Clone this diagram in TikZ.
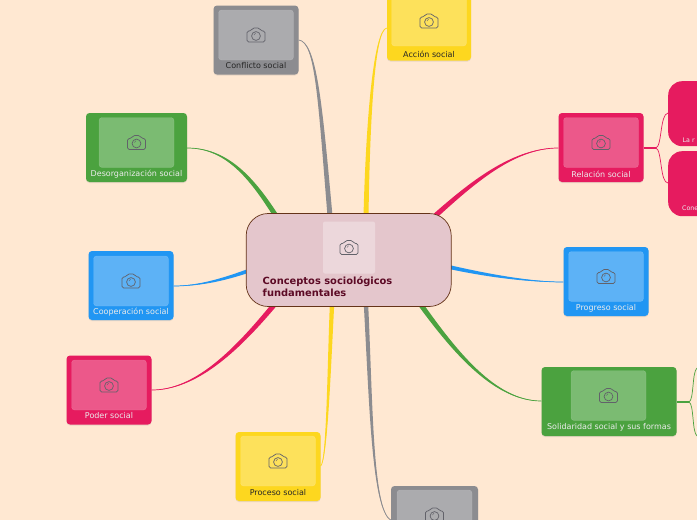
\documentclass[tikz,border=0pt]{standalone}
\usepackage{fontspec}
\setmainfont{DejaVu Sans}
\usepackage{xcolor}
\usetikzlibrary{backgrounds,shadows,calc}
\definecolor{mapbg}{HTML}{FFE8D2}
\definecolor{maproot}{HTML}{E4C6CC}
\definecolor{mapedge}{HTML}{653318}
\definecolor{maptext}{HTML}{5C0A25}
\definecolor{mappink}{HTML}{E61B5F}
\definecolor{mapgreen}{HTML}{4BA23F}
\definecolor{mapblue}{HTML}{2196F3}
\definecolor{mapyellow}{HTML}{FDD71F}
\definecolor{mapgray}{HTML}{8C8C90}
\definecolor{mapicon}{HTML}{62626A}
% tapered branch: colour, from, to, control 1, control 2, half width at the thick end
\newcommand{\mapbranch}[6]{
  \fill[#1] ($(#2)+#6$) .. controls ($(#4)+0.8*#6$) and ($(#5)+0.25*#6$) .. (#3)
    .. controls ($(#5)-0.25*#6$) and ($(#4)-0.8*#6$) .. ($(#2)-#6$) -- cycle;
  \draw[#1, line width=0.7pt] (#2) .. controls (#4) and (#5) .. (#3);
}
\tikzset{
  rootbox/.style={draw=mapedge, fill=maproot, rounded corners=22pt, line width=0.7pt, minimum width=205pt, minimum height=93pt, inner sep=0pt},
  cardbox/.style={fill=#1, rounded corners=3.5pt, minimum height=69pt, inner sep=0pt, drop shadow={shadow xshift=0pt, shadow yshift=-1pt, opacity=0.18}},
  cardpic/.style={fill=white, fill opacity=0.27, draw=white, draw opacity=0.18, rounded corners=3pt, minimum width=75pt, minimum height=50pt, inner sep=0pt},
  rootpic/.style={fill=white, fill opacity=0.3, rounded corners=2pt, minimum width=52pt, minimum height=52pt, inner sep=0pt},
  lighttext/.style={text=white!92!black, font=\fontsize{8}{10}\selectfont, inner sep=0pt},
  darktext/.style={text=black!85, font=\fontsize{8}{10}\selectfont, inner sep=0pt},
  roottext/.style={text=maptext, font=\fontsize{9.9}{12}\selectfont\bfseries, align=left, inner sep=0pt},
  subbox/.style={fill=mappink, rounded corners=14pt, minimum width=60pt, minimum height=65pt, inner sep=0pt},
  subtext/.style={text=white!92!black, font=\fontsize{6.3}{8}\selectfont, inner sep=0pt, anchor=west},
  camera/.pic={
    \draw[mapicon, line width=0.7pt, rounded corners=1.6pt]
      (-9,7) -- (-9,-4) -- (-5,-4) -- (-3.5,-7) -- (3.5,-7) -- (5,-4) -- (9,-4) -- (9,7) -- cycle;
    \draw[mapicon, line width=0.7pt] (0,1) circle (4.4);
    \draw[mapicon, line width=0.4pt] (-2,0) -- (-0.5,-1.8);
  }
}
\begin{document}
\begin{tikzpicture}[x=1pt, y=-1pt]
\clip (0,0) rectangle (697,520);

\node[rootbox] (root) at (348.7,260) {};
\node[rootpic] (rootimg) at (349,247.5) {};
\pic at (rootimg) {camera};
\node[roottext, anchor=north west] (roottxt) at (262.5,276.5) {Conceptos sociológicos\\fundamentales};

% left side
\node[cardbox=mapgray, minimum width=85pt] (conflicto) at (256,40) {};
\node[cardpic] (conflictoimg) at (256,35) {};
\pic at (conflictoimg) {camera};
\node[darktext] (conflictotxt) at (256,66) {Conflicto social};

\node[cardbox=mapgreen, minimum width=101pt] (desorg) at (136.5,147.5) {};
\node[cardpic] (desorgimg) at (136.5,142.5) {};
\pic at (desorgimg) {camera};
\node[lighttext] (desorgtxt) at (136.5,174) {Desorganización social};

\node[cardbox=mapblue, minimum width=85pt] (cooper) at (131,285.5) {};
\node[cardpic] (cooperimg) at (131,281) {};
\pic at (cooperimg) {camera};
\node[lighttext] (coopertxt) at (131,312) {Cooperación social};

\node[cardbox=mappink, minimum width=85pt] (poder) at (109,390) {};
\node[cardpic] (poderimg) at (109,385) {};
\pic at (poderimg) {camera};
\node[lighttext] (podertxt) at (109,416) {Poder social};

\node[cardbox=mapyellow, minimum width=85pt] (proceso) at (278,466.5) {};
\node[cardpic] (procesoimg) at (278,461) {};
\pic at (procesoimg) {camera};
\node[darktext] (procesotxt) at (278,493) {Proceso social};

% right side
\node[cardbox=mapyellow, minimum width=84pt] (accion) at (429,26) {};
\node[cardpic] (accionimg) at (429,21) {};
\pic at (accionimg) {camera};
\node[darktext] (acciontxt) at (429,54) {Acción social};

\node[cardbox=mappink, minimum width=85pt] (relacion) at (601,147.5) {};
\node[cardpic] (relacionimg) at (601,142.5) {};
\pic at (relacionimg) {camera};
\node[lighttext] (relaciontxt) at (601,174) {Relación social};

\node[cardbox=mapblue, minimum width=85pt] (progreso) at (606,281.5) {};
\node[cardpic] (progresoimg) at (606,276.5) {};
\pic at (progresoimg) {camera};
\node[lighttext] (progresotxt) at (606,308) {Progreso social};

\node[cardbox=mapgreen, minimum width=135pt] (solidar) at (609,401.5) {};
\node[cardpic] (solidarimg) at (608.5,395.5) {};
\pic at (solidarimg) {camera};
\node[lighttext] (solidartxt) at (609,427) {Solidaridad social y sus formas};

\node[cardbox=mapgray, minimum width=87pt] (abajo) at (434.5,520.5) {};
\node[cardpic] (abajoimg) at (434.5,515) {};
\pic at (abajoimg) {camera};

% cut off at the right edge
\node[subbox, anchor=north west] (relaA) at (668,81) {};
\node[subbox, anchor=north west] (relaB) at (668,151) {};
\node[subtext] (relaAtxt) at (682.5,140) {La r};
\node[subtext] (relaBtxt) at (682,208) {Cone};
\coordinate (forkR) at (656,148);
\coordinate (forkS) at (689,402);
\coordinate (solidarA) at (697,368);
\coordinate (solidarB) at (697,436);

\begin{scope}[on background layer]
\fill[mapbg] (0,0) rectangle (697,520);
\mapbranch{mapgray}{330,216}{conflicto.east|-0,40}{320,100}{316,42}{(2.5,0)}
\mapbranch{mapyellow}{366,216}{accion.west|-0,28}{368,120}{374,30}{(2.5,0)}
\mapbranch{mappink}{435,216}{relacion.west|-0,148}{475,180}{515,148}{(1.8,1.8)}
\mapbranch{mapgreen}{276,216}{desorg.east|-0,148}{250,175}{225,148}{(1.8,-1.8)}
\mapbranch{mapblue}{248,271}{cooper.east|-0,286}{225,279}{200,286}{(0,2)}
\mapbranch{mapblue}{449,267}{progreso.west|-0,282}{490,276}{530,282}{(0,2)}
\mapbranch{mappink}{274,305}{poder.east|-0,390}{235,352}{195,390}{(1.8,1.8)}
\mapbranch{mapgreen}{421,305}{solidar.west|-0,401}{455,352}{495,401}{(1.8,-1.8)}
\mapbranch{mapyellow}{332,305}{proceso.east|-0,466}{329,370}{327,460}{(2.2,0)}
\mapbranch{mapgray}{366,305}{abajo.west|-0,520}{371,400}{372,510}{(2.2,0)}
\end{scope}

\draw[mappink, line width=1.5pt] (relacion.east|-forkR) -- (forkR);
\draw[mappink, line width=0.7pt] (forkR) .. controls (662,146) and (660,114) .. (relaA.west|-0,113);
\draw[mappink, line width=0.7pt] (forkR) .. controls (662,150) and (660,183) .. (relaB.west|-0,183);
\draw[mapgreen, line width=1.2pt] (solidar.east|-forkS) -- (forkS);
\draw[mapgreen, line width=0.7pt] (forkS) .. controls (694,400) and (692,372) .. (solidarA);
\draw[mapgreen, line width=0.7pt] (forkS) .. controls (694,404) and (692,432) .. (solidarB);
\end{tikzpicture}
\end{document}
